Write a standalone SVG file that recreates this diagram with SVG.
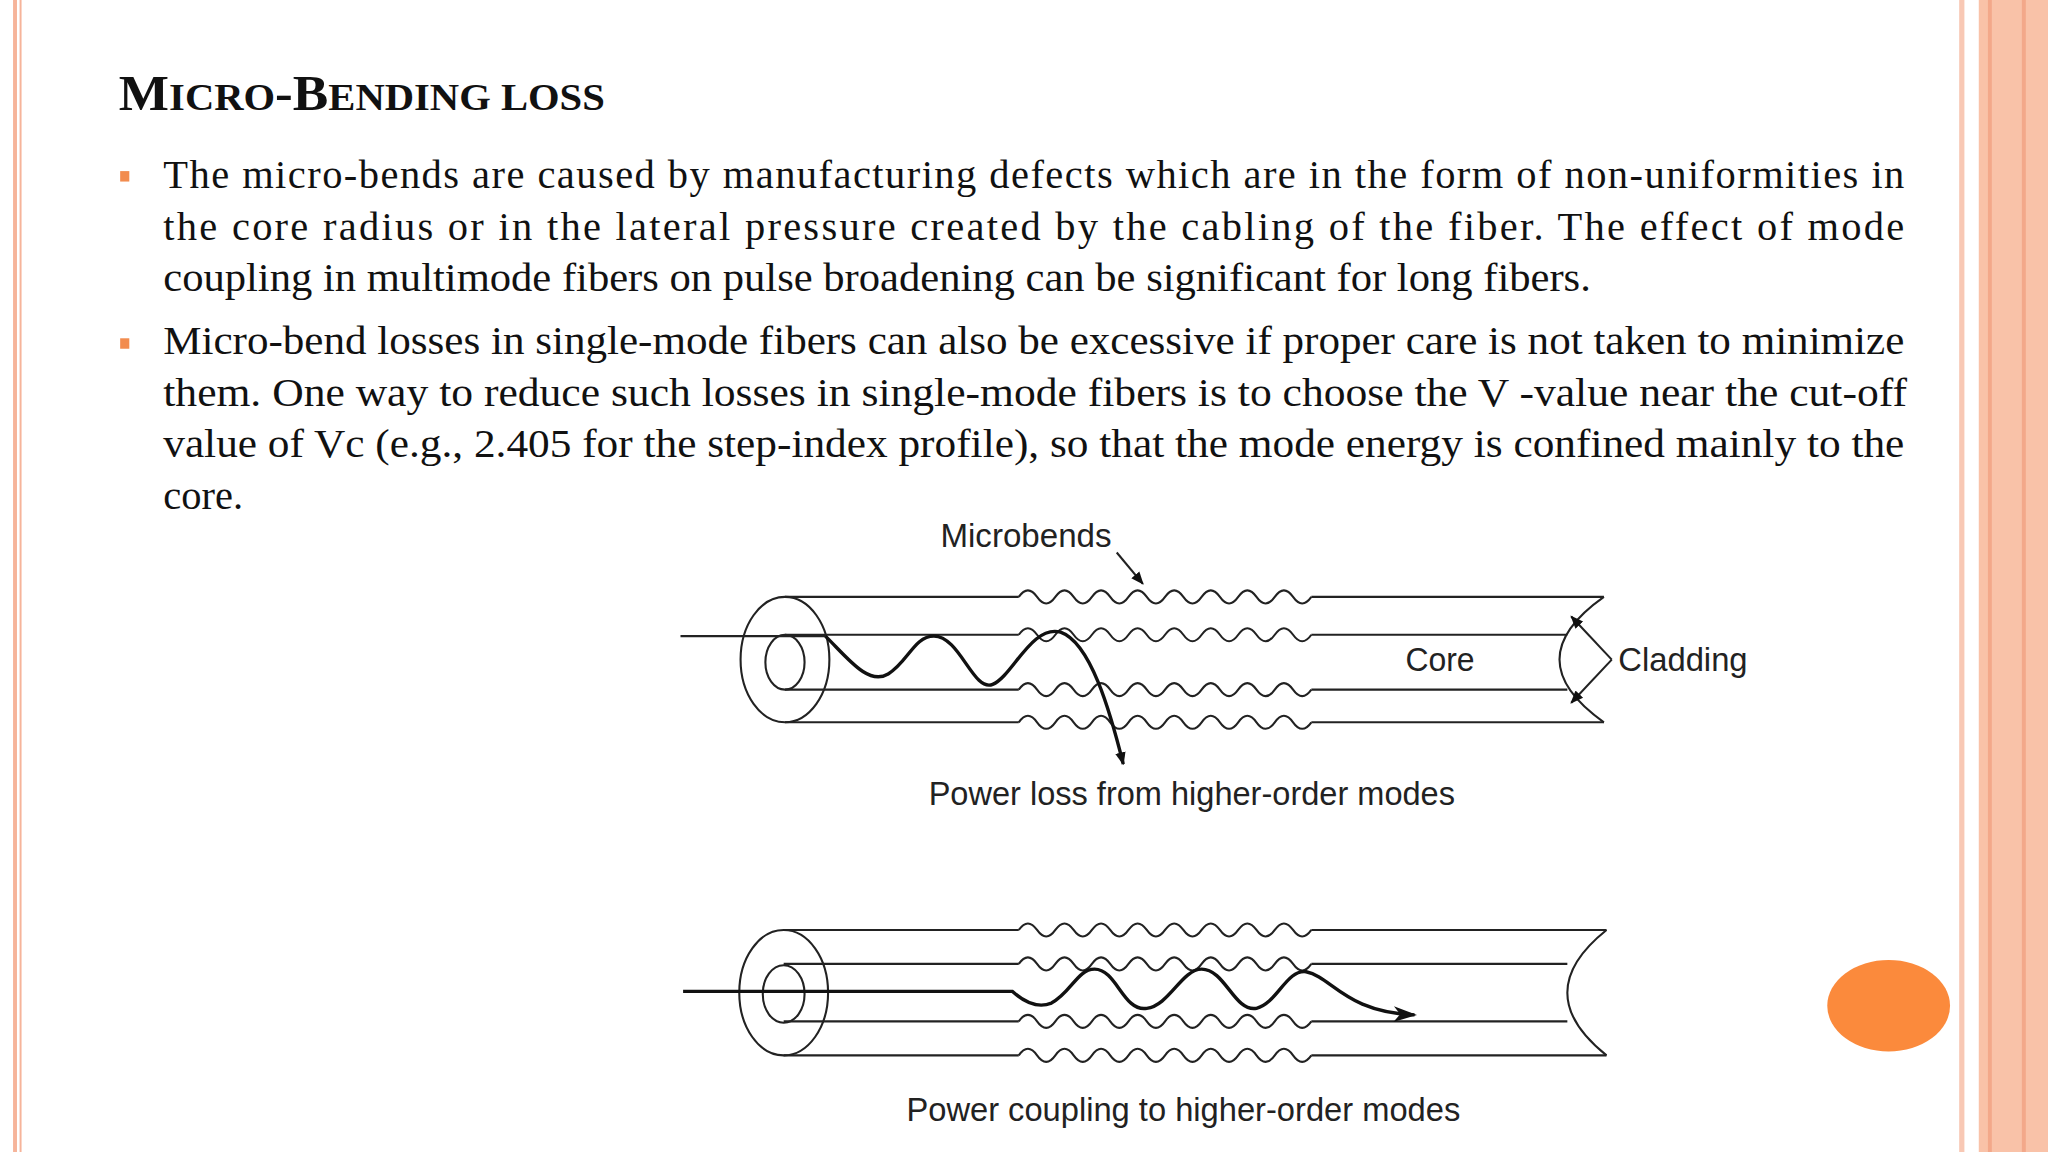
<svg xmlns="http://www.w3.org/2000/svg" width="2048" height="1152" viewBox="0 0 2048 1152">
<style>
.t{font-family:"Liberation Serif",serif;font-size:31px;fill:#111}
.l{font-family:"Liberation Sans",sans-serif;font-size:25px;fill:#222}
.s{fill:none;stroke:#222;stroke-width:1.6}
.r{fill:none;stroke:#111;stroke-width:2.6}
</style>
<defs>
<marker id="a" markerWidth="10" markerHeight="10" refX="9" refY="5" orient="auto" markerUnits="userSpaceOnUse"><path d="M0,1 L10,5 L0,9 Z" fill="#111"/></marker>
<marker id="b" markerWidth="18" markerHeight="12" refX="16" refY="6" orient="auto" markerUnits="userSpaceOnUse"><path d="M0,0 L18,6 L0,12 L5,6 Z" fill="#111"/></marker>
<path id="w" fill="none" stroke="#222" stroke-width="1.6" d="M0,0 q7,-10 14,0 t14,0 t14,0 t14,0 t14,0 t14,0 t14,0 t14,0 t14,0 t14,0 t14,0 t14,0 t14,0 t14,0 t14,0 t14,0"/>
</defs>
<rect width="2048" height="1152" fill="#fff"/>
<g transform="scale(1.30612)">
<rect x="10" y="0" width="3" height="882" fill="#F6B49A"/>
<rect x="15" y="0" width="1.5" height="882" fill="#F6B49A"/>
<rect x="1500" y="0" width="4" height="882" fill="#F8C8B4"/>
<rect x="1515" y="0" width="53" height="882" fill="#F9C2A8"/>
<rect x="1522" y="0" width="3" height="882" fill="#F3A88A"/>
<rect x="1548" y="0" width="3" height="882" fill="#F3A88A"/>
<g id="title"><text x="91" y="84" font-family="Liberation Serif,serif" font-weight="bold" font-size="38" fill="#111" textLength="372" lengthAdjust="spacingAndGlyphs">M<tspan font-size="29">ICRO</tspan>-B<tspan font-size="29">ENDING LOSS</tspan></text></g>
<g id="bullets">
<rect x="92" y="131" width="7" height="8" fill="#F28C4F"/>
<rect x="92" y="259" width="7" height="8" fill="#F28C4F"/>
<text class="t" x="125" y="144" textLength="1333" lengthAdjust="spacing">The micro-bends are caused by manufacturing defects which are in the form of non-uniformities in</text>
<text class="t" x="125" y="184" textLength="1333" lengthAdjust="spacing">the core radius or in the lateral pressure created by the cabling of the fiber. The effect of mode</text>
<text class="t" x="125" y="223" textLength="1093" lengthAdjust="spacingAndGlyphs">coupling in multimode fibers on pulse broadening can be significant for long fibers.</text>
<text class="t" x="125" y="271" textLength="1333" lengthAdjust="spacingAndGlyphs">Micro-bend losses in single-mode fibers can also be excessive if proper care is not taken to minimize</text>
<text class="t" x="125" y="311" textLength="1335" lengthAdjust="spacingAndGlyphs">them. One way to reduce such losses in single-mode fibers is to choose the V -value near the cut-off</text>
<text class="t" x="125" y="350" textLength="1333" lengthAdjust="spacingAndGlyphs">value of Vc (e.g., 2.405 for the step-index profile), so that the mode energy is confined mainly to the</text>
<text class="t" x="125" y="390">core.</text>
</g>
<g id="fiber1">
<ellipse class="s" cx="601" cy="505" rx="34" ry="48"/>
<ellipse class="s" cx="601" cy="507" rx="15" ry="21"/>
<path class="s" d="M601,457 H780"/><use href="#w" transform="translate(780,457)"/><path class="s" d="M1004,457 H1228"/>
<path class="s" d="M601,486 H780"/><use href="#w" transform="translate(780,486)"/><path class="s" d="M1004,486 H1200"/>
<path class="s" d="M601,528 H780"/><use href="#w" transform="translate(780,528)"/><path class="s" d="M1004,528 H1200"/>
<path class="s" d="M601,553 H780"/><use href="#w" transform="translate(780,553)"/><path class="s" d="M1004,553 H1228"/>
<path class="s" d="M1228,457 Q1160,505 1228,553"/>
<path class="s" d="M521,487 H632"/>
<path class="r" d="M632,487 C650,505 665,525 680,516 C695,507 700,487 715,487 C735,487 745,530 760,524 C775,518 790,478 812,484 C835,492 850,545 860,585" marker-end="url(#a)"/>
<text class="l" x="720" y="419" textLength="131" lengthAdjust="spacingAndGlyphs">Microbends</text>
<path class="s" d="M855,423 L875,447" marker-end="url(#a)"/>
<text class="l" x="1076" y="514" textLength="53" lengthAdjust="spacingAndGlyphs">Core</text>
<text class="l" x="1239" y="514" textLength="99" lengthAdjust="spacingAndGlyphs">Cladding</text>
<path class="s" d="M1234,505 L1203,472" marker-end="url(#a)"/>
<path class="s" d="M1234,505 L1203,538" marker-end="url(#a)"/>
<text class="l" x="711" y="616" textLength="403" lengthAdjust="spacingAndGlyphs">Power loss from higher-order modes</text>
</g>
<g id="fiber2">
<ellipse class="s" cx="600" cy="760" rx="34" ry="48"/>
<ellipse class="s" cx="600" cy="761" rx="16" ry="22"/>
<path class="s" d="M600,712 H780"/><use href="#w" transform="translate(780,712)"/><path class="s" d="M1004,712 H1230"/>
<path class="s" d="M600,738 H780"/><use href="#w" transform="translate(780,738)"/><path class="s" d="M1004,738 H1200"/>
<path class="s" d="M600,782 H780"/><use href="#w" transform="translate(780,782)"/><path class="s" d="M1004,782 H1200"/>
<path class="s" d="M600,808 H780"/><use href="#w" transform="translate(780,808)"/><path class="s" d="M1004,808 H1230"/>
<path class="s" d="M1230,712 Q1170,760 1230,808"/>
<path class="r" d="M523,759 H775 C785,768 795,772 805,768 C820,760 825,742 838,742 C855,742 860,775 878,772 C895,770 905,742 920,742 C938,742 945,775 962,772 C978,768 985,742 1000,744 C1020,748 1030,775 1083,777" marker-end="url(#b)"/>
<text class="l" x="694" y="858" textLength="424" lengthAdjust="spacingAndGlyphs">Power coupling to higher-order modes</text>
</g>
<ellipse cx="1446" cy="770" rx="47" ry="35" fill="#FB8A3C"/>
</g>
</svg>
